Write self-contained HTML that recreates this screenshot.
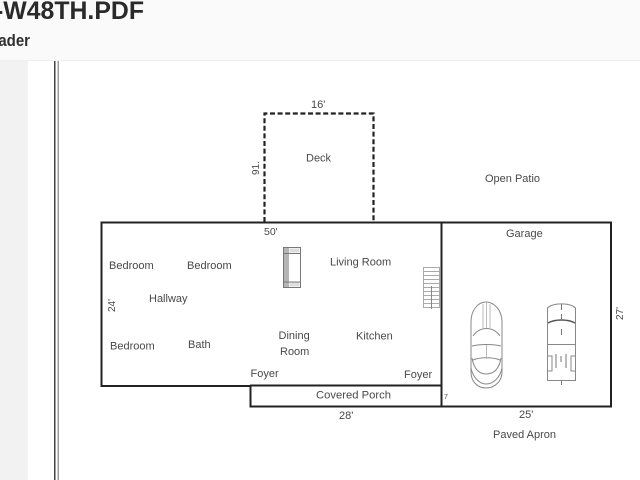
<!DOCTYPE html>
<html>
<head>
<meta charset="utf-8">
<style>
html,body{margin:0;padding:0;width:640px;height:480px;overflow:hidden;background:#fff}
svg{display:block}
text{font-family:"Liberation Sans",sans-serif;fill:#484848}
.soft{filter:blur(0.35px)}
</style>
</head>
<body>
<svg width="640" height="480" viewBox="0 0 640 480" xmlns="http://www.w3.org/2000/svg">
<rect width="640" height="480" fill="#fff"/>
<rect x="0" y="0" width="640" height="60" fill="#fafafa"/>
<rect x="0" y="60" width="640" height="1" fill="#f0f0f0"/>
<rect x="0" y="61" width="28" height="419" fill="#f2f2f2"/>
<g class="soft">
<text x="-5" y="19" font-size="25" font-weight="bold" style="fill:#2a2a2a" textLength="149" lengthAdjust="spacingAndGlyphs">-W48TH.PDF</text>
<text x="-10" y="46" font-size="16.5" font-weight="bold" style="fill:#2f2f2f" textLength="40" lengthAdjust="spacingAndGlyphs">eader</text>
<rect x="54" y="61" width="1.5" height="419" fill="#444"/>
<rect x="57.5" y="61" width="1.5" height="419" fill="#999"/>

<!-- deck -->
<g fill="none" stroke="#222" stroke-width="2.2" stroke-dasharray="5 2.6">
<path d="M264.500 222V113.500H373.500V222"/>
</g>
<path d="M265 222H373" stroke="#555" stroke-width="1" stroke-dasharray="5 2" fill="none"/>

<!-- walls -->
<g fill="none" stroke="#222" stroke-width="2">
<path d="M101.500 222.500H611V406.500H250.500V386H101.500Z"/>
<path d="M441.500 222V406.500"/>
<path d="M250 385.500H441.500"/>
</g>

<!-- fireplace -->
<g fill="none">
<rect x="283.500" y="247.500" width="17" height="40" fill="#fff" stroke="#777" stroke-width="1"/>
<rect x="284" y="248" width="5" height="39" fill="#b5b5b5"/>
<path d="M284 253.500H300M284 282H300" stroke="#777"/>
<rect x="289.500" y="248.500" width="10" height="4" fill="#ddd"/>
<rect x="289.500" y="282.500" width="10" height="4" fill="#ddd"/>
</g>

<!-- stairs -->
<g stroke="#aaa" stroke-width="1" fill="none">
<rect x="423.500" y="267.500" width="16" height="40"/>
<path d="M423 271.500H439M423 275.500H439M423 279.500H439M423 283.500H439M423 287.500H439M423 291.500H439M423 295.500H439M423 299.500H439M423 303.500H439"/>
<path d="M431.500 286V309" stroke="#888"/>
</g>

<!-- car -->
<g fill="none" stroke="#888" stroke-width="1">
<path d="M471 372V322C471 310 478 302 486 302C494 302 502 310 502 322V372C502 381 495 388 486 388C477 388 471 381 471 372Z"/>
<path d="M471 368C473 378 480 384 486 384C493 384 500 378 502 368"/>
<path d="M472 358C474 370 480 374 486 374C493 374 499 370 501 358"/>
<path d="M473 336C480 326 493 326 500 336"/>
<path d="M472 346C480 344 493 344 501 346"/>
<path d="M473 360C480 357 493 357 500 360"/>
<path d="M483 304V328M486.500 303V328M490 304V328M486.500 345V359" stroke="#bbb"/>
</g>

<!-- truck -->
<g fill="none" stroke="#888" stroke-width="1">
<path d="M547.500 380.500V308C553 302.500 570 302.500 575.500 308V380.500Z"/>
<path d="M548 323C555 319 568 319 575 323" stroke="#555" stroke-width="1.500"/>
<path d="M548 344.500H575"/>
<path d="M548 356H552V371H548M575 356H571V371H575"/>
<path d="M556 354V368M561 356V362M566 354V368M561.500 304V310M561.500 314V320M561.500 329V335M561.500 381V385" stroke="#777"/>
</g>

<!-- labels -->
<g font-size="11">
<text x="311" y="108">16'</text>
<text x="306" y="161.500">Deck</text>
<text x="485" y="182">Open Patio</text>
<text x="264" y="235" font-size="10.500">50'</text>
<text x="506" y="237">Garage</text>
<text x="109" y="269">Bedroom</text>
<text x="187" y="269">Bedroom</text>
<text x="330" y="265.500">Living Room</text>
<text x="149" y="302">Hallway</text>
<text x="110" y="349.500">Bedroom</text>
<text x="188" y="348">Bath</text>
<text x="278.500" y="339">Dining</text>
<text x="280" y="355">Room</text>
<text x="356" y="339.500">Kitchen</text>
<text x="250.500" y="377">Foyer</text>
<text x="404" y="378">Foyer</text>
<text x="316" y="398.500" textLength="75" lengthAdjust="spacingAndGlyphs">Covered Porch</text>
<text x="339" y="419">28'</text>
<text x="519" y="418">25'</text>
<text x="493" y="438">Paved Apron</text>
<text transform="translate(259 175) rotate(-90)" font-size="10">91.</text>
<text transform="translate(115 312) rotate(-90)" font-size="10">24'</text>
<text transform="translate(623 320) rotate(-90)" font-size="10">27'</text>
<text x="444" y="399" font-size="7">7</text>
</g>
</g>
</svg>
</body>
</html>
